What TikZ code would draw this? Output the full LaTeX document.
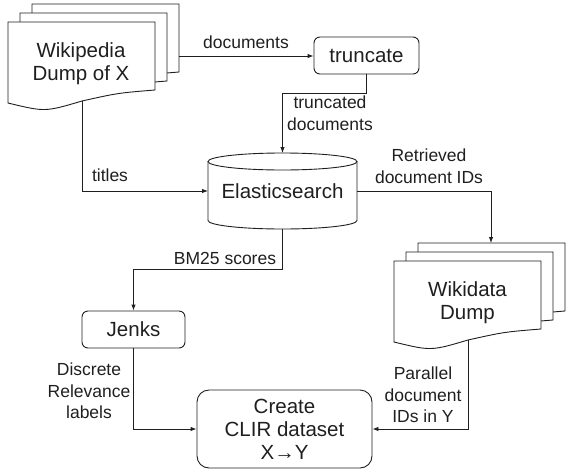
\documentclass[tikz,border=0pt]{standalone}
\usepackage{fontspec}
\setmainfont{Liberation Sans}
\usetikzlibrary{arrows.meta}
\usetikzlibrary{calc}

\begin{document}
\begin{tikzpicture}[x=1pt, y=-1pt, line width=0.9pt, color=black!88,
        box/.style={draw, rounded corners=6pt, align=center, font=\fontsize{20.5}{23}\selectfont},
        lbl/.style={align=center, font=\fontsize{17.5}{21.5}\selectfont},
        arr/.style={-{Latex[length=6pt,width=4.5pt]}},
        docpage/.pic={\draw[fill=white] (0,0) -- (147,0) -- (147,68) .. controls (110,71) .. (74,79) .. controls (37,90) .. (0,81) -- cycle;}]
        \useasboundingbox (0,0) rectangle (572,474);
        % Wikipedia dump
        \pic at (32,4) {docpage};
        \pic at (20,13) {docpage};
        \pic at (8,22) {docpage};
        \node[align=center, font=\fontsize{20.5}{23}\selectfont] (wiki) at (81,64) {Wikipedia\\Dump of X};
        \coordinate (wikiout) at (179,56);
        \coordinate (wikibot) at (82,101);
        % Wikidata dump
        \pic at (418,243) {docpage};
        \pic at (406,252) {docpage};
        \pic at (394,261) {docpage};
        \node[align=center, font=\fontsize{20.5}{23}\selectfont] (wd) at (467.5,303) {Wikidata\\Dump};
        \coordinate (wdin) at (491,243);
        \coordinate (wdbot) at (468,340);
        % boxes
        \node[box, minimum width=105pt, minimum height=37pt] (trunc) at (366.5,55.5) {truncate};
        \node[box, minimum width=103pt, minimum height=37pt] (jenks) at (133.5,329.5) {Jenks};
        \node[box, rounded corners=12pt, minimum width=175pt, minimum height=78pt] (clir) at (284.5,429) {Create\\CLIR dataset\\X→Y};
        % Elasticsearch
        \node[outer sep=0pt, minimum width=149pt, minimum height=76pt, font=\fontsize{20.5}{23}\selectfont] (es) at (282.5,191) {\raisebox{-4pt}{Elasticsearch}};
        \draw ([yshift=-8.5pt]es.north west) -- ([yshift=8.5pt]es.south west) arc[start angle=180, end angle=360, x radius=74.5pt, y radius=8.5pt] -- ([yshift=-8.5pt]es.north east);
        \draw ([yshift=-8.5pt]es.north) ellipse [x radius=74.5pt, y radius=8.5pt];
        % connectors
        \draw[arr] (wikiout) -- (wikiout -| trunc.west);
        \node[lbl] (lbldocs) at (246,42) {documents};
        \draw[arr] (trunc.south) -- ++(0,19) -| (es.north);
        \node[lbl] (lbltrunc) at (330,113) {truncated\\documents};
        \draw[arr] (wikibot) |- (es.west);
        \node[lbl] (lbltitles) at (110,175) {titles};
        \draw[arr] (es.east) -| (wdin);
        \node[lbl] (lblret) at (429,166) {Retrieved\\document IDs};
        \draw[arr] (es.south) -- ++(0,40) -| (jenks.north);
        \node[lbl] (lblbm) at (225,258) {BM25 scores};
        \draw[arr] (jenks.south) |- (clir.west);
        \node[lbl] (lbldisc) at (89,391) {Discrete\\Relevance\\labels};
        \draw[arr] (wdbot) |- (clir.east);
        \node[lbl] (lblpar) at (423,395) {Parallel\\document\\IDs in Y};
    \end{tikzpicture}
\end{document}
